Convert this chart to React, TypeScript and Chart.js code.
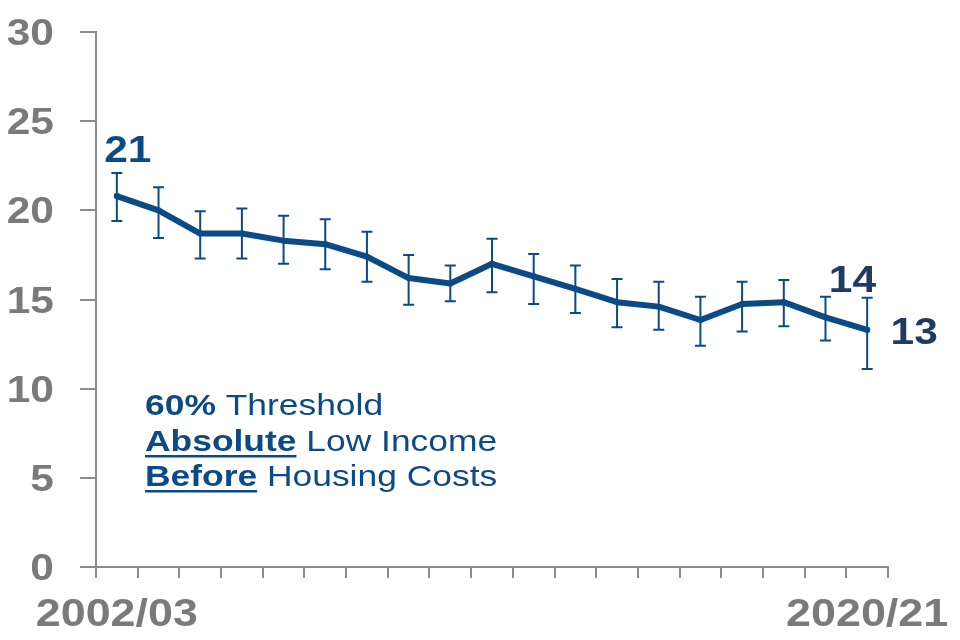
import React, { useEffect, useRef } from "react";
import { Chart, registerables } from "chart.js";

Chart.register(...registerables);

const categories = [
  "2002/03", "2003/04", "2004/05", "2005/06", "2006/07", "2007/08", "2008/09",
  "2009/10", "2010/11", "2011/12", "2012/13", "2013/14", "2014/15", "2015/16",
  "2016/17", "2017/18", "2018/19", "2019/20", "2020/21",
];
const values = [20.8, 20.0, 18.7, 18.7, 18.3, 18.1, 17.4, 16.2, 15.9, 17.0, 16.3, 15.6, 14.85, 14.6, 13.85, 14.75, 14.85, 14.0, 13.3];
const lowerBounds = [19.4, 18.45, 17.3, 17.3, 17.0, 16.7, 16.0, 14.7, 14.9, 15.4, 14.75, 14.25, 13.45, 13.3, 12.4, 13.2, 13.5, 12.7, 11.1];
const upperBounds = [22.1, 21.3, 19.95, 20.1, 19.7, 19.5, 18.8, 17.5, 16.9, 18.4, 17.55, 16.9, 16.15, 16.0, 15.15, 16.0, 16.1, 15.15, 15.1];
const xTickLabels = ["2002/03", "2020/21"];
const yTicks = [0, 5, 10, 15, 20, 25, 30];
const valueLabelIndex = [0, 17, 18];
const valueLabelText = ["21", "14", "13"];
const noteBold = ["60%", "Absolute", "Before"];
const noteRest = [" Threshold", " Low Income", " Housing Costs"];
const noteUnderline = [false, true, true];

const BLUE = "#0c4a86";
const NAVY = "#1f3a64";
const GRAY = "#8c8c8c";
const LABEL_GRAY = "#7a7a7a";
const FONT = '"Liberation Sans", Arial, sans-serif';
const SX = 1.18;

function stretchText(ctx: CanvasRenderingContext2D, text: string, x: number, y: number) {
  ctx.save();
  ctx.translate(x, y);
  ctx.scale(SX, 1);
  ctx.fillText(text, 0, 0);
  ctx.restore();
}

const overlayPlugin = {
  id: "overlay",
  beforeDatasetsDraw(chart: any) {
    const ctx = chart.ctx as CanvasRenderingContext2D;
    const xs = chart.scales.x;
    const ys = chart.scales.y;
    ctx.save();
    ctx.strokeStyle = BLUE;
    ctx.lineWidth = 2;
    for (let i = 0; i < values.length; i++) {
      const x = xs.getPixelForValue(i);
      const yt = ys.getPixelForValue(upperBounds[i]);
      const yb = ys.getPixelForValue(lowerBounds[i]);
      ctx.beginPath();
      ctx.moveTo(x, yt);
      ctx.lineTo(x, yb);
      ctx.moveTo(x - 5.5, yt);
      ctx.lineTo(x + 5.5, yt);
      ctx.moveTo(x - 5.5, yb);
      ctx.lineTo(x + 5.5, yb);
      ctx.stroke();
    }
    ctx.restore();
  },
  afterDraw(chart: any) {
    const ctx = chart.ctx as CanvasRenderingContext2D;
    const xs = chart.scales.x;
    const ys = chart.scales.y;
    const area = chart.chartArea;
    ctx.save();
    // y tick labels
    ctx.fillStyle = LABEL_GRAY;
    ctx.font = `bold 36px ${FONT}`;
    ctx.textAlign = "right";
    ctx.textBaseline = "alphabetic";
    yTicks.forEach((v) => {
      const y = ys.getPixelForValue(v);
      stretchText(ctx, String(v), xs.left - 42, y + 13);
    });
    // x tick labels (first and last only)
    ctx.font = `bold 38px ${FONT}`;
    ctx.textAlign = "center";
    const firstX = xs.getPixelForValue(categories.indexOf(xTickLabels[0]));
    const lastX = xs.getPixelForValue(categories.indexOf(xTickLabels[1]));
    stretchText(ctx, xTickLabels[0], firstX, area.bottom + 59);
    stretchText(ctx, xTickLabels[1], lastX, area.bottom + 59);
    // value labels
    ctx.font = `bold 36px ${FONT}`;
    ctx.textAlign = "center";
    const offsets = [
      [11, -34],
      [27, -25],
      [47, 14],
    ];
    valueLabelIndex.forEach((idx, k) => {
      const x = xs.getPixelForValue(idx);
      const y = ys.getPixelForValue(values[idx]);
      ctx.fillStyle = k === 0 ? BLUE : NAVY;
      stretchText(ctx, valueLabelText[k], x + offsets[k][0], y + offsets[k][1]);
    });
    // note text
    ctx.textAlign = "left";
    ctx.fillStyle = BLUE;
    const left = area.left + 49;
    const baselines = [415, 451, 486];
    noteBold.forEach((b, i) => {
      const by = baselines[i];
      ctx.font = `bold 30px ${FONT}`;
      const bw = ctx.measureText(b).width * SX;
      stretchText(ctx, b, left, by);
      if (noteUnderline[i]) {
        ctx.fillRect(left, by + 4, bw, 2.5);
      }
      ctx.font = `30px ${FONT}`;
      stretchText(ctx, noteRest[i], left + bw, by);
    });
    ctx.restore();
  },
};

export default function App() {
  const ref = useRef<HTMLCanvasElement | null>(null);
  useEffect(() => {
    document.body.style.margin = "0";
    const canvas = ref.current;
    if (!canvas) return;
    const chart = new Chart(canvas, {
      type: "line",
      data: {
        labels: categories,
        datasets: [
          {
            data: values,
            borderColor: BLUE,
            backgroundColor: BLUE,
            borderWidth: 6,
            pointRadius: 3,
            pointBackgroundColor: BLUE,
            pointBorderWidth: 0,
            tension: 0,
            borderJoinStyle: "round",
            borderCapStyle: "round",
          },
        ],
      },
      options: {
        animation: false,
        responsive: false,
        devicePixelRatio: 1,
        layout: { padding: { top: 32, right: 72, left: 0, bottom: 0 } },
        plugins: { legend: { display: false }, tooltip: { enabled: false } },
        scales: {
          x: {
            type: "category",
            offset: true,
            grid: {
              offset: true,
              drawOnChartArea: false,
              drawTicks: true,
              tickLength: 11,
              color: GRAY,
              lineWidth: 2,
            },
            border: { color: GRAY, width: 2 },
            ticks: { display: false },
            afterFit: (scale: any) => {
              scale.height = 73;
            },
          },
          y: {
            min: 0,
            max: 30,
            grid: {
              drawOnChartArea: false,
              drawTicks: true,
              tickLength: 16,
              color: GRAY,
              lineWidth: 2,
            },
            border: { color: GRAY, width: 2 },
            ticks: { display: false, stepSize: 5 },
            afterFit: (scale: any) => {
              scale.width = 96;
            },
          },
        },
      },
      plugins: [overlayPlugin],
    } as any);
    return () => chart.destroy();
  }, []);
  return <canvas ref={ref} width={960} height={640} style={{ display: "block" }} />;
}
